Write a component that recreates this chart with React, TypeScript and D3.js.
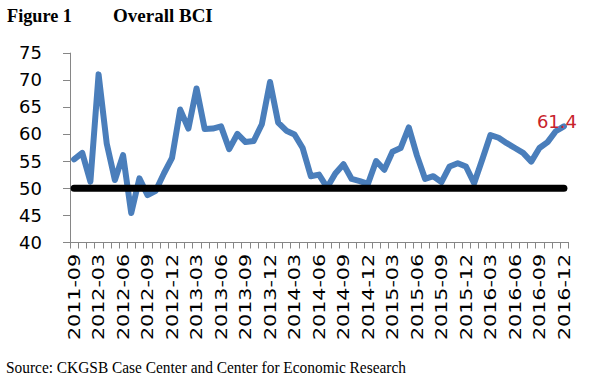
import React from "react";
import * as d3 from "d3";

const categories: string[] = [
  "2011-09", "2012-01", "2012-02",
  "2012-03", "2012-04", "2012-05", "2012-06", "2012-07", "2012-08", "2012-09", "2012-10", "2012-11", "2012-12",
  "2013-01", "2013-02", "2013-03", "2013-04", "2013-05", "2013-06", "2013-07", "2013-08", "2013-09", "2013-10", "2013-11", "2013-12",
  "2014-01", "2014-02", "2014-03", "2014-04", "2014-05", "2014-06", "2014-07", "2014-08", "2014-09", "2014-10", "2014-11", "2014-12",
  "2015-01", "2015-02", "2015-03", "2015-04", "2015-05", "2015-06", "2015-07", "2015-08", "2015-09", "2015-10", "2015-11", "2015-12",
  "2016-01", "2016-02", "2016-03", "2016-04", "2016-05", "2016-06", "2016-07", "2016-08", "2016-09", "2016-10", "2016-11", "2016-12",
];

const bciValues: number[] = [
  55.3, 56.5, 51.2, 71.0, 58.2, 51.5, 56.1, 45.4, 51.8, 48.7,
  49.5, 52.7, 55.6, 64.5, 61.0, 68.4, 60.9, 61.0, 61.4, 57.2,
  60.0, 58.5, 58.7, 61.8, 69.6, 62.1, 60.6, 59.9, 57.4, 52.2,
  52.5, 50.1, 52.7, 54.4, 51.7, 51.3, 50.8, 55.0, 53.4, 56.7,
  57.4, 61.2, 56.0, 51.7, 52.2, 51.1, 54.0, 54.6, 54.0, 50.9,
  55.3, 59.8, 59.3, 58.3, 57.4, 56.5, 54.9, 57.4, 58.5, 60.5, 61.4,
];

const thresholdValue = 50;
const yTicks: number[] = [40, 45, 50, 55, 60, 65, 70, 75];
const xTickLabels: string[] = [
  "2011-09", "2012-03", "2012-06", "2012-09", "2012-12", "2013-03", "2013-06", "2013-09", "2013-12",
  "2014-03", "2014-06", "2014-09", "2014-12", "2015-03", "2015-06", "2015-09", "2015-12",
  "2016-03", "2016-06", "2016-09", "2016-12",
];
const lastLabel = "61.4";

export default function App() {
  const W = 589, H = 381;
  const left = 70, right = 568, top = 52.7, bottom = 242.3;

  const x = d3.scalePoint<string>().domain(categories).range([left, right]).padding(0.5);
  const y = d3.scaleLinear().domain([40, 75]).range([bottom, top]);
  const step = x.step();

  const line = d3.line<number>()
    .x((_, i) => x(categories[i]) as number)
    .y((d) => y(d));

  const thresholdData = categories.map(() => thresholdValue);

  const axisColor = "#868686";
  const sans = "'DejaVu Sans', sans-serif";
  const serif = "'Liberation Serif', 'Times New Roman', serif";

  const boundaries = d3.range(categories.length + 1).map((i) => left + i * step);
  const lastCat = categories[categories.length - 1];

  return (
    <svg width={W} height={H} style={{ position: "absolute", left: 0, top: 0, display: "block", background: "#fff" }}>
      <rect x={0} y={0} width={W} height={H} fill="#fff" />
      <text x={7} y={21.5} fontFamily={serif} fontWeight="bold" fontSize={19} fill="#000" textLength={65} lengthAdjust="spacingAndGlyphs">Figure 1</text>
      <text x={113} y={21.5} fontFamily={serif} fontWeight="bold" fontSize={19} fill="#000">Overall BCI</text>

      {/* y axis */}
      <line x1={left + 0.5} x2={left + 0.5} y1={top} y2={bottom} stroke={axisColor} strokeWidth={1} />
      {yTicks.map((t) => (
        <g key={t}>
          <line x1={left - 7} x2={left + 0.5} y1={Math.round(y(t)) + 0.5} y2={Math.round(y(t)) + 0.5} stroke={axisColor} strokeWidth={1} />
          <text x={42} y={y(t)} dy="0.36em" textAnchor="end" fontFamily={sans} fontSize={18} fill="#000">{t}</text>
        </g>
      ))}

      {/* x axis */}
      <line x1={left} x2={right} y1={Math.round(bottom) + 0.5} y2={Math.round(bottom) + 0.5} stroke={axisColor} strokeWidth={1} />
      {boundaries.map((bx, i) => (
        <line key={i} x1={Math.round(bx) + 0.5} x2={Math.round(bx) + 0.5} y1={Math.round(bottom)} y2={Math.round(bottom) + 6.5} stroke={axisColor} strokeWidth={1} />
      ))}
      {xTickLabels.map((lab) => {
        const cx = x(lab) as number;
        return (
          <text key={lab} transform={`translate(${cx},254) rotate(-90)`} dy="0.36em" textAnchor="end"
            fontFamily={sans} fontSize={16} fill="#000" textLength={86} lengthAdjust="spacingAndGlyphs">{lab}</text>
        );
      })}

      {/* series */}
      <path d={line(bciValues) as string} fill="none" stroke="#4a7ebb" strokeWidth={6} strokeLinejoin="round" strokeLinecap="round" />
      <path d={line(thresholdData) as string} fill="none" stroke="#000" strokeWidth={7} strokeLinecap="round" />

      <text x={(x(lastCat) as number) - 27} y={128} fontFamily={sans} fontSize={18} fill="#c8232c">{lastLabel}</text>

      <text x={6} y={373} fontFamily={serif} fontSize={16} fill="#000" textLength={400} lengthAdjust="spacingAndGlyphs">Source: CKGSB Case Center and Center for Economic Research</text>
    </svg>
  );
}
